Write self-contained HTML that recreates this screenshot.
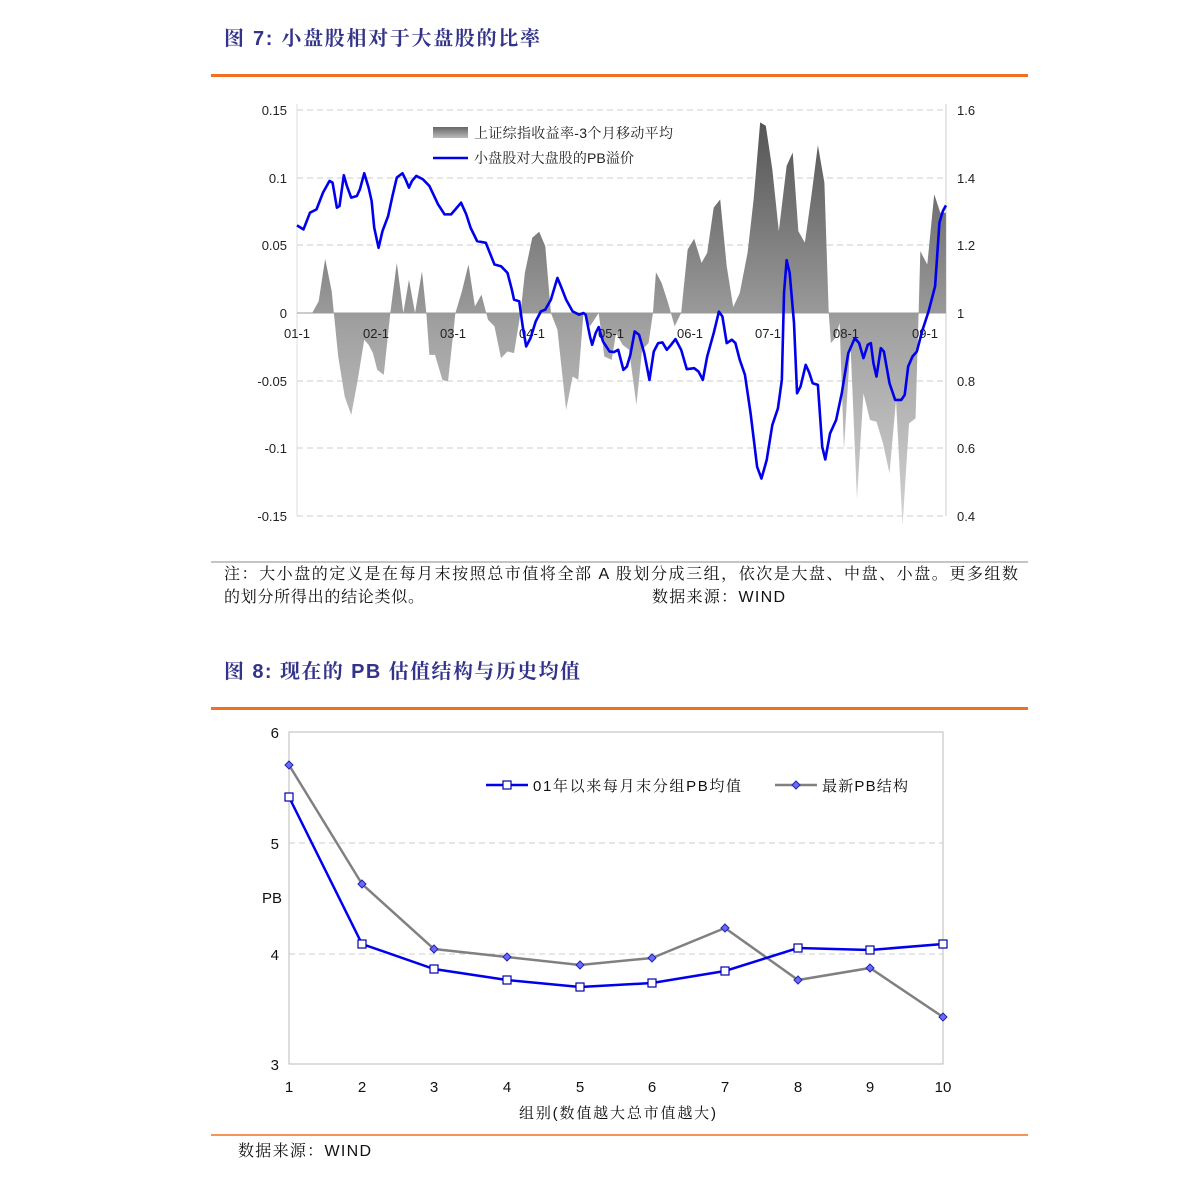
<!DOCTYPE html>
<html><head><meta charset="utf-8"><style>
body{margin:0;background:#fff;width:1191px;height:1179px;overflow:hidden;font-family:"Liberation Sans","Noto Sans CJK SC",sans-serif;}
svg{position:absolute;left:0;top:0}
.s{font-family:"Liberation Sans","Noto Serif CJK SC",serif}
</style></head><body>
<svg width="1191" height="1179" viewBox="0 0 1191 1179" font-family="Liberation Sans, Noto Sans CJK SC, sans-serif">
<defs>
<linearGradient id="g" gradientUnits="userSpaceOnUse" x1="0" y1="70" x2="0" y2="1275">
<stop offset="0" stop-color="#555"/><stop offset="0.47" stop-color="#999"/><stop offset="0.5" stop-color="#a0a0a0"/><stop offset="1" stop-color="#d2d2d2"/>
</linearGradient>
<linearGradient id="lg" x1="0" y1="0" x2="0" y2="1"><stop offset="0" stop-color="#666"/><stop offset="1" stop-color="#bbb"/></linearGradient>
</defs>
<text class="s" x="224" y="45" font-size="20" fill="#33338a" font-weight="bold" textLength="316" lengthAdjust="spacing">图 7:  小盘股相对于大盘股的比率</text>
<rect x="211" y="74" width="817" height="3" fill="#f07020"/>
<g stroke="#ccc" stroke-dasharray="6,4" stroke-width="1">
<line x1="297" y1="110" x2="946" y2="110"/><line x1="297" y1="178" x2="946" y2="178"/><line x1="297" y1="245" x2="946" y2="245"/>
<line x1="297" y1="381" x2="946" y2="381"/><line x1="297" y1="448" x2="946" y2="448"/><line x1="297" y1="516" x2="946" y2="516"/>
</g>
<line x1="297" y1="104" x2="297" y2="516" stroke="#ddd"/>
<line x1="946" y1="104" x2="946" y2="516" stroke="#ccc"/>
<g transform="translate(279.6,99) scale(0.4341,0.3344)">
<polygon fill="url(#g)" points="75,640 90,605 105,478 120,575 125,640 135,770 150,890 165,945 180,840 195,720 205,735 215,760 225,810 240,825 255,640 270,490 285,640 298,540 312,640 328,515 338,640 345,765 358,765 375,840 388,845 405,640 420,575 435,495 450,620 465,585 480,660 495,680 510,775 525,755 540,760 555,640 565,520 582,415 598,397 612,440 625,640 640,690 660,930 675,830 688,840 700,640 715,680 735,640 748,770 765,780 775,700 790,735 805,750 822,915 835,750 850,730 860,640 867,518 880,550 895,610 910,680 925,640 940,450 955,418 972,490 985,460 1000,325 1015,300 1030,500 1045,622 1060,580 1078,460 1092,300 1107,70 1120,80 1135,210 1150,395 1168,200 1182,160 1195,395 1210,430 1225,290 1240,138 1255,250 1265,640 1270,730 1280,715 1290,670 1300,1050 1315,730 1330,1195 1345,880 1360,960 1375,965 1390,1030 1405,1120 1420,900 1435,1275 1450,970 1465,955 1472,640 1476,455 1492,495 1508,285 1522,340 1535,340 1535,640"/>
</g>
<line x1="297" y1="313" x2="946" y2="313" stroke="#999"/>
<g font-size="13" fill="#222" text-anchor="middle">
<text x="297" y="338">01-1</text><text x="376" y="338">02-1</text><text x="453" y="338">03-1</text><text x="532" y="338">04-1</text><text x="611" y="338">05-1</text><text x="690" y="338">06-1</text><text x="768" y="338">07-1</text><text x="846" y="338">08-1</text><text x="925" y="338">09-1</text>
</g>
<g transform="translate(279.6,99) scale(0.4341,0.3344)">
<polyline fill="none" stroke="#0000ee" stroke-width="2.6" vector-effect="non-scaling-stroke" stroke-linejoin="round" points="40,378 55,390 70,340 85,330 100,280 115,245 122,250 132,325 138,320 148,228 155,260 165,295 178,290 185,270 195,222 205,265 212,305 218,385 228,445 237,395 250,350 260,290 270,235 283,222 290,240 298,265 305,245 315,230 330,240 345,260 365,315 380,345 395,345 405,330 418,310 430,345 440,385 455,425 475,430 495,495 510,500 525,520 535,570 540,600 552,605 560,680 568,740 578,715 590,665 602,635 612,630 625,600 640,535 648,560 660,600 675,635 690,645 700,640 705,645 715,710 720,735 728,700 735,682 745,725 760,755 770,757 780,750 792,810 800,800 808,765 818,695 828,705 840,760 852,840 862,755 872,730 882,728 892,750 900,738 912,718 925,750 938,808 955,805 965,815 975,840 985,770 1000,700 1012,636 1020,650 1030,730 1042,720 1050,730 1060,780 1072,825 1085,940 1100,1100 1110,1135 1122,1080 1135,975 1148,925 1157,840 1162,580 1168,482 1175,520 1185,670 1192,880 1200,860 1212,795 1220,818 1228,850 1240,855 1250,1040 1257,1078 1268,1000 1282,960 1295,880 1310,760 1325,715 1335,730 1345,775 1355,735 1362,730 1368,790 1375,830 1385,745 1392,755 1405,850 1418,900 1432,900 1440,885 1448,800 1458,770 1468,755 1480,695 1495,635 1510,560 1520,370 1528,335 1535,318"/>
</g>
<g font-size="13" fill="#222" text-anchor="end">
<text x="287" y="115">0.15</text><text x="287" y="183">0.1</text><text x="287" y="250">0.05</text><text x="287" y="318">0</text><text x="287" y="386">-0.05</text><text x="287" y="453">-0.1</text><text x="287" y="521">-0.15</text>
</g>
<g font-size="13" fill="#222">
<text x="957" y="115">1.6</text><text x="957" y="183">1.4</text><text x="957" y="250">1.2</text><text x="957" y="318">1</text><text x="957" y="386">0.8</text><text x="957" y="453">0.6</text><text x="957" y="521">0.4</text>
</g>
<rect x="433" y="127" width="35" height="11" fill="url(#lg)"/>
<text class="s" x="474" y="138" font-size="14" fill="#222" textLength="199">上证综指收益率-3个月移动平均</text>
<line x1="433" y1="158" x2="468" y2="158" stroke="#0000ee" stroke-width="2.5"/>
<text class="s" x="474" y="163" font-size="14" fill="#222" textLength="160">小盘股对大盘股的PB溢价</text>
<line x1="211" y1="562" x2="1028" y2="562" stroke="#888"/>
<text class="s" x="224" y="579" font-size="16" fill="#111" textLength="794" lengthAdjust="spacing">注：大小盘的定义是在每月末按照总市值将全部 A 股划分成三组，依次是大盘、中盘、小盘。更多组数</text>
<text class="s" x="224" y="602" font-size="16" fill="#111" textLength="200" lengthAdjust="spacing">的划分所得出的结论类似。</text>
<text class="s" x="652" y="602" font-size="16" fill="#111" textLength="133" lengthAdjust="spacing">数据来源：WIND</text>
<text class="s" x="224" y="678" font-size="20" fill="#33338a" font-weight="bold" textLength="356" lengthAdjust="spacing">图 8:  现在的 PB 估值结构与历史均值</text>
<rect x="211" y="707" width="817" height="3" fill="#f07020"/>
<rect x="289" y="732" width="654" height="332" fill="none" stroke="#bbb"/>
<g stroke="#ccc" stroke-dasharray="6,4"><line x1="289" y1="843" x2="943" y2="843"/><line x1="289" y1="954" x2="943" y2="954"/></g>
<g font-size="15" fill="#111" text-anchor="end"><text x="279" y="738">6</text><text x="279" y="849">5</text><text x="279" y="960">4</text><text x="279" y="1070">3</text></g>
<text x="262" y="903" font-size="15" fill="#111">PB</text>
<g font-size="15" fill="#111" text-anchor="middle">
<text x="289" y="1092">1</text><text x="362" y="1092">2</text><text x="434" y="1092">3</text><text x="507" y="1092">4</text><text x="580" y="1092">5</text><text x="652" y="1092">6</text><text x="725" y="1092">7</text><text x="798" y="1092">8</text><text x="870" y="1092">9</text><text x="943" y="1092">10</text>
</g>
<text class="s" x="519" y="1118" font-size="15" fill="#111" textLength="197" lengthAdjust="spacing">组别(数值越大总市值越大)</text>
<polyline fill="none" stroke="#808080" stroke-width="2.5" points="289,765 362,884 434,949 507,957 580,965 652,958 725,928 798,980 870,968 943,1017"/>
<g fill="#6a6aff" stroke="#2222aa" stroke-width="1">
<polygon points="289,761 293,765 289,769 285,765"/><polygon points="362,880 366,884 362,888 358,884"/><polygon points="434,945 438,949 434,953 430,949"/><polygon points="507,953 511,957 507,961 503,957"/><polygon points="580,961 584,965 580,969 576,965"/><polygon points="652,954 656,958 652,962 648,958"/><polygon points="725,924 729,928 725,932 721,928"/><polygon points="798,976 802,980 798,984 794,980"/><polygon points="870,964 874,968 870,972 866,968"/><polygon points="943,1013 947,1017 943,1021 939,1017"/>
</g>
<polyline fill="none" stroke="#0000ee" stroke-width="2.5" points="289,797 362,944 434,969 507,980 580,987 652,983 725,971 798,948 870,950 943,944"/>
<g fill="#fff" stroke="#0000aa" stroke-width="1.2">
<rect x="285" y="793" width="8" height="8"/><rect x="358" y="940" width="8" height="8"/><rect x="430" y="965" width="8" height="8"/><rect x="503" y="976" width="8" height="8"/><rect x="576" y="983" width="8" height="8"/><rect x="648" y="979" width="8" height="8"/><rect x="721" y="967" width="8" height="8"/><rect x="794" y="944" width="8" height="8"/><rect x="866" y="946" width="8" height="8"/><rect x="939" y="940" width="8" height="8"/>
</g>
<line x1="486" y1="785" x2="528" y2="785" stroke="#0000ee" stroke-width="2.5"/>
<rect x="503" y="781" width="8" height="8" fill="#fff" stroke="#0000aa" stroke-width="1.2"/>
<text class="s" x="533" y="791" font-size="15" fill="#111" textLength="208" lengthAdjust="spacing">01年以来每月末分组PB均值</text>
<line x1="775" y1="785" x2="817" y2="785" stroke="#808080" stroke-width="2.5"/>
<polygon points="796,781 800,785 796,789 792,785" fill="#6a6aff" stroke="#2222aa"/>
<text class="s" x="822" y="791" font-size="15" fill="#111" textLength="86" lengthAdjust="spacing">最新PB结构</text>
<line x1="211" y1="1135" x2="1028" y2="1135" stroke="#f07020" stroke-width="1.5"/>
<text class="s" x="238" y="1156" font-size="16" fill="#111" textLength="133" lengthAdjust="spacing">数据来源：WIND</text>
</svg>
</body></html>
